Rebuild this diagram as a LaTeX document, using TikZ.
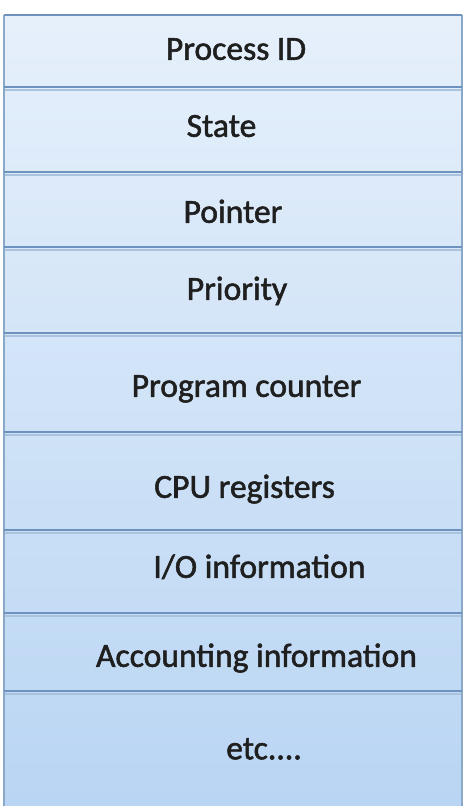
\documentclass[tikz,border=0pt]{standalone}
\usepackage{fontspec}
\setmainfont{Carlito}
\newfontfamily\fieldfont[FakeBold=1.6]{Carlito}
\usetikzlibrary{positioning}
\definecolor{pcbtop}{HTML}{E6F0FB}
\definecolor{pcbbottom}{HTML}{B9D5F3}
\definecolor{pcbline}{HTML}{6D92BD}
\definecolor{pcbshadow}{HTML}{A9C3DF}
\definecolor{pcbside}{HTML}{8AA8C8}

\begin{document}
\begin{tikzpicture}[x=1pt,y=1pt,
  field/.style={rectangle,inner sep=0pt,outer sep=0pt,minimum width=458pt},
  fieldtext/.style={inner sep=0pt,font=\fieldfont\fontsize{33.6}{40}\selectfont,text height=21.6pt,text depth=0pt,text=black!88},
  divider/.style={draw=pcbline,line width=2.6pt},
  shadowline/.style={draw=pcbshadow,line width=2pt},
  side/.style={draw=pcbside,line width=1.6pt}]

	\useasboundingbox (0,0) rectangle (474,806);

	% The fields
	\node [field,minimum height=72pt,anchor=north] at (233,791) (pid) {};
	\node [field,minimum height=85pt,below=0pt of pid] (state) {};
	\node [field,minimum height=75pt,below=0pt of state] (ptr) {};
	\node [field,minimum height=86pt,below=0pt of ptr] (prio) {};
	\node [field,minimum height=99pt,below=0pt of prio] (pc) {};
	\node [field,minimum height=98pt,below=0pt of pc] (regs) {};
	\node [field,minimum height=83pt,below=0pt of regs] (io) {};
	\node [field,minimum height=78pt,below=0pt of io] (acct) {};
	\node [field,minimum height=115pt,below=0pt of acct] (misc) {};

	\fill [top color=pcbtop,bottom color=pcbbottom] (pid.north west) rectangle (misc.south east);

	% Field labels
	\node [fieldtext] at ([xshift=3pt,yshift=2pt]pid.center) (tpid) {Process ID};
	\node [fieldtext] at ([xshift=-11.5pt,yshift=3.5pt]state.center) (tstate) {State};
	\node [fieldtext] at ([yshift=-2.5pt]ptr.center) (tptr) {Pointer};
	\node [fieldtext] at ([xshift=4pt,yshift=1pt]prio.center) (tprio) {Priority};
	\node [fieldtext] at ([xshift=13.5pt,yshift=-3.5pt]pc.center) (tpc) {Program counter};
	\node [fieldtext] at ([xshift=11.5pt,yshift=-6pt]regs.center) (tregs) {CPU registers};
	\node [fieldtext] at ([xshift=26.5pt,yshift=4.5pt]io.center) (tio) {I/O information};
	\node [fieldtext] at ([xshift=23.5pt,yshift=-4pt]acct.center) (tacct) {Accounting information};
	\node [fieldtext] at ([xshift=31pt]misc.center) (tmisc) {etc....};

	% Borders
	\foreach \f in {state,ptr,prio,pc,regs,io,acct,misc}
		\draw [shadowline] ([yshift=-2.6pt]\f.north west) -- ([yshift=-2.6pt]\f.north east);
	\draw [side] (pid.north west) -- (misc.south west);
	\draw [side] (pid.north east) -- (misc.south east);
	\foreach \f in {pid,state,ptr,prio,pc,regs,io,acct,misc}
		\draw [divider] (\f.north west) -- (\f.north east);

\end{tikzpicture}
\end{document}
